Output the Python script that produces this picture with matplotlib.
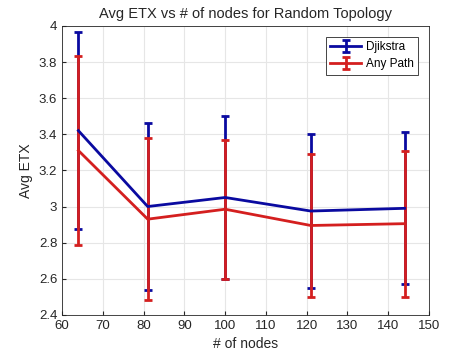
import numpy as np
import matplotlib
matplotlib.use('Agg')
import matplotlib.pyplot as plt

# Average ETX per network size
nodes = [64, 81, 100, 121, 144]
djikstra_mean = [3.42, 3.00, 3.05, 2.975, 2.99]
djikstra_err = [0.545, 0.46, 0.45, 0.425, 0.42]
anypath_mean = [3.31, 2.93, 2.985, 2.895, 2.905]
anypath_err = [0.525, 0.45, 0.385, 0.395, 0.405]

plt.rcParams['font.family'] = ['Liberation Sans', 'DejaVu Sans']

fig = plt.figure(figsize=(4.74, 3.55), dpi=100)
ax = fig.add_axes([0.131, 0.113, 0.774, 0.814])

ax.errorbar(nodes, djikstra_mean, yerr=djikstra_err, color='#0a0aa0', lw=2,
            capsize=3, capthick=2, elinewidth=2, label='Djikstra')
ax.errorbar(nodes, anypath_mean, yerr=anypath_err, color='#d41f1f', lw=2,
            capsize=3, capthick=2, elinewidth=2, label='Any Path')

ax.set_xlim(60, 150)
ax.set_ylim(2.4, 4)
ax.set_xticks(np.arange(60, 151, 10))
ax.set_yticks(np.arange(2.4, 4.01, 0.2))
ax.set_yticklabels(['2.4', '2.6', '2.8', '3', '3.2', '3.4', '3.6', '3.8', '4'])
ax.grid(True, color='#e6e6e6', lw=0.8)
ax.set_axisbelow(True)
for s in ax.spines.values():
    s.set_color('#262626')
    s.set_linewidth(0.6)
ax.tick_params(labelsize=9.5, colors='#262626', direction='in', length=3)

ax.set_xlabel('# of nodes', fontsize=10, color='#262626')
ax.set_ylabel('Avg ETX', fontsize=10, color='#262626')
ax.set_title('Avg ETX vs # of nodes for Random Topology', fontsize=10.5, color='#262626')

leg = ax.legend(loc='upper right', fontsize=8.5, fancybox=False, framealpha=1,
                edgecolor='#262626', handlelength=2.6, borderpad=0.4,
                labelspacing=0.4, handletextpad=0.4, borderaxespad=0.9)
leg.get_frame().set_linewidth(0.6)

fig.savefig('out.png', dpi=100)
